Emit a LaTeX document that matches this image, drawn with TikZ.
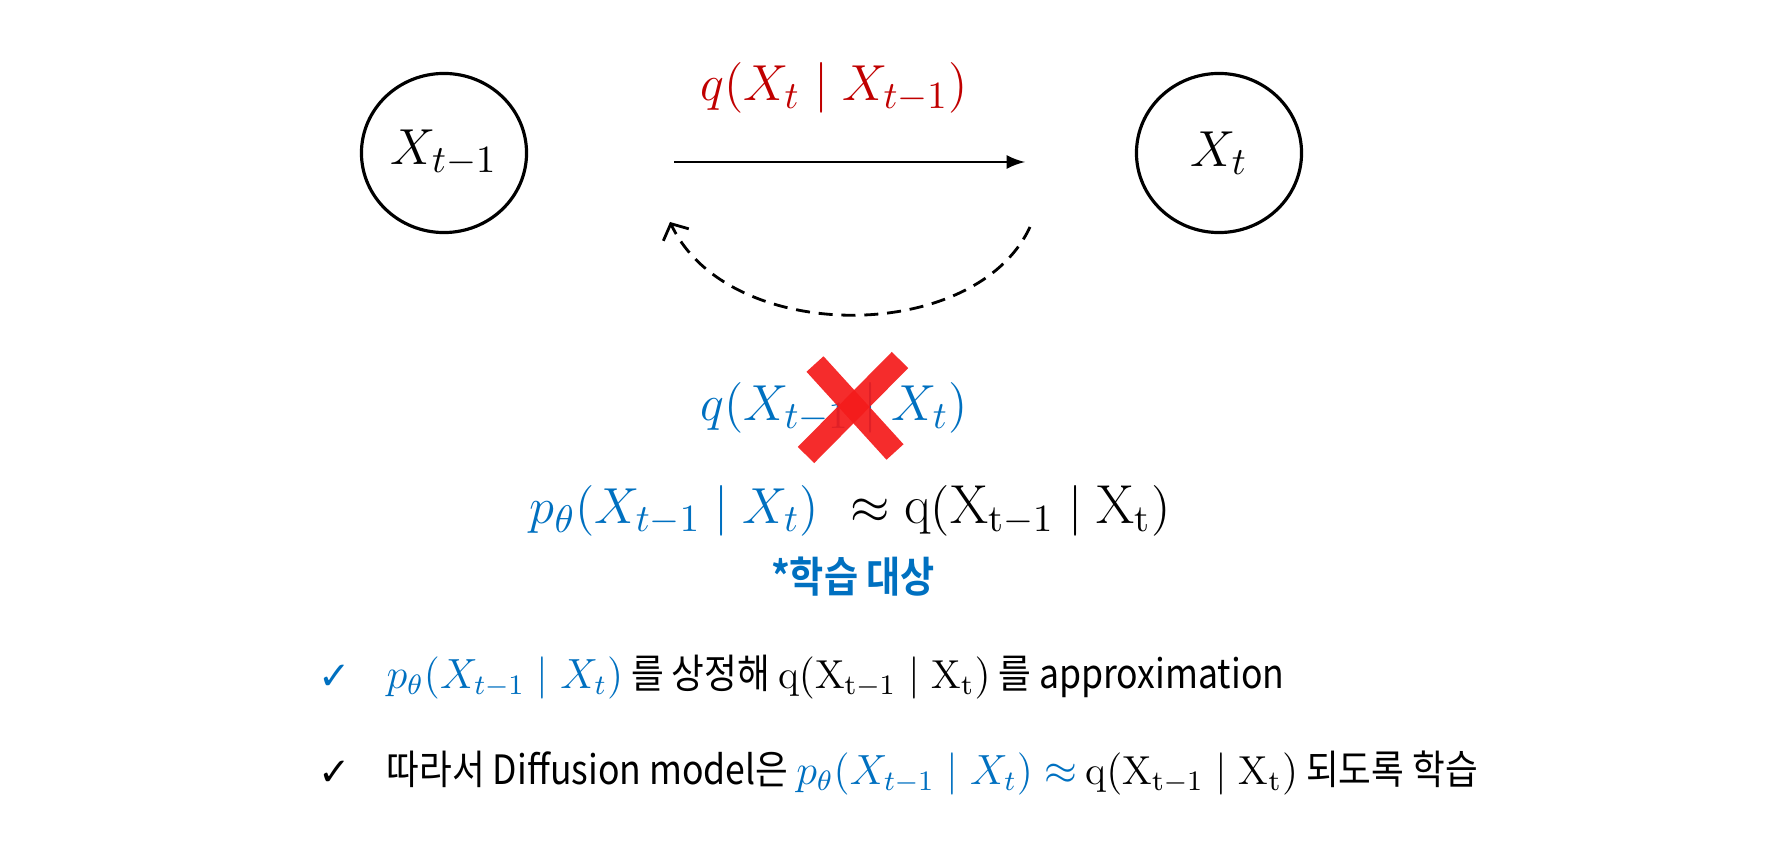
\documentclass[tikz,border=0pt]{standalone}
\usepackage{fontspec}
\newfontfamily\kr[FakeStretch=0.88,BoldFont={Noto Sans CJK KR Bold}]{Noto Sans CJK KR}
\newfontfamily\symfont{DejaVu Sans}
\usepackage{tikz}
\usetikzlibrary{arrows,arrows.meta}
\usetikzlibrary{shapes.geometric}
\usetikzlibrary{positioning}
\definecolor{qred}{HTML}{C00000}
\definecolor{pblue}{HTML}{0070C0}
\definecolor{crossred}{HTML}{F41A1A}

\begin{document}
\begin{tikzpicture}
	[
	x=0.01cm, y=-0.01cm,
	> = latex,
	state/.style = {draw,ellipse,line width=0.9pt,minimum width=1.65cm,minimum height=1.59cm,inner sep=0pt,font=\fontsize{15}{18}\selectfont},
	eq/.style = {font=\fontsize{15}{18}\selectfont},
	bigeq/.style = {font=\fontsize{15.6}{18}\selectfont},
	bulletline/.style = {anchor=west,inner sep=0pt,font=\kr\fontsize{11.5}{13}\selectfont},
	tick/.style = {inner sep=0pt,font=\symfont\fontsize{11}{13}\selectfont}
	]
	\useasboundingbox (0,0) rectangle (1791,843);

	% states
	\node[state] (xprev) at (444,153) {$X_{t-1}$};
	\node[state] (xnext) at (1219,153) {$X_t$};

	% forward / reverse
	\coordinate (fwdstart) at (674,162);
	\coordinate (fwdend) at (1025,162);
	\draw[->,line width=0.8pt] (fwdstart) to (fwdend);
	\draw (834,88) node[eq,text=qred] (fwdlabel) {$q(X_t \mid X_{t-1})$};

	\coordinate (revstart) at (1030,227);
	\coordinate (revend) at (670,222);
	\draw[-{Straight Barb[length=3.5pt,width=8pt]},line width=0.8pt,dash pattern=on 4pt off 2.5pt] (revstart) .. controls (975,345) and (728,345) .. (revend);

	% reverse posterior, crossed out
	\draw (834,408) node[eq,text=pblue] (revq) {$q(X_{t-1} \mid X_t)$};
	\draw[crossred,line width=0.23cm,opacity=0.92] (815,364) to (895,452);
	\draw[crossred,line width=0.23cm,opacity=0.92] (900,360) to (806,455);

	\draw (850,511) node[bigeq] (approx) {{\color{pblue}$p_\theta(X_{t-1} \mid X_t)$}\; $\approx \mathrm{q}(\mathrm{X}_{\mathrm{t}-1} \mid \mathrm{X}_{\mathrm{t}})$};
	\draw (853,577) node[text=pblue,font=\kr\bfseries\fontsize{12}{14}\selectfont] (target) {*학습 대상};

	% summary
	\draw (335,677) node[tick,text=pblue] (tickA) {✓};
	\draw (386,677) node[bulletline] (lineA) {{\color{pblue}$p_\theta(X_{t-1} \mid X_t)$} 를 상정해 $\mathrm{q}(\mathrm{X}_{\mathrm{t}-1} \mid \mathrm{X}_{\mathrm{t}})$ 를 approximation};
	\draw (335,773) node[tick] (tickB) {✓};
	\draw (386,773) node[bulletline] (lineB) {따라서 Diffusion model은 {\color{pblue}$p_\theta(X_{t-1} \mid X_t) \approx$} $\mathrm{q}(\mathrm{X}_{\mathrm{t}-1} \mid \mathrm{X}_{\mathrm{t}})$ 되도록 학습};
\end{tikzpicture}
\end{document}
